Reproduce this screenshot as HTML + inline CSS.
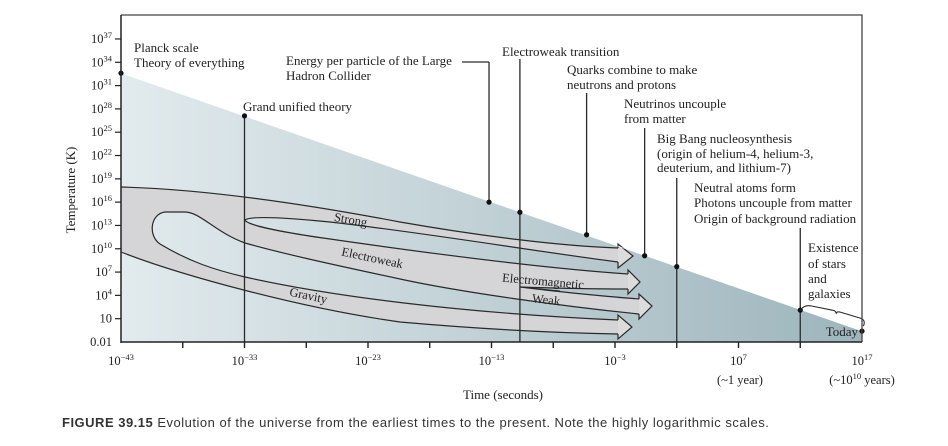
<!DOCTYPE html>
<html><head><meta charset="utf-8"><style>
html,body{margin:0;padding:0;background:#fff;}
svg{display:block;}
text{font-family:"Liberation Serif",serif;fill:#222;}
.cap{font-family:"Liberation Sans",sans-serif;fill:#333;}
</style></head><body>
<svg id="chart" width="948" height="446" viewBox="0 0 948 446" xmlns="http://www.w3.org/2000/svg">
<defs>
<linearGradient id="bg" gradientUnits="userSpaceOnUse" x1="121" y1="0" x2="862" y2="0">
<stop offset="0" stop-color="#e2ebee"/><stop offset="1" stop-color="#9db5bc"/>
</linearGradient>
</defs>
<g id="plot"></g>
</svg>
<script>
const lineTimeExp=[-43,17];
const lineTempExp=[32.6,-0.6];
const eventNames=["planck","gut","lhc","electroweak","quarks","neutrinos","bbn","atoms","stars","today"];
const eventTimeExp=[-43,-33,-13.2,-10.7,-5.3,-0.6,2,12,12,17];
const eventTempExp=[32.6,27.1,16.0,14.7,11.8,9.1,7.7,2.1,2.1,-0.6];
const yTickExp=[37,34,31,28,25,22,19,16,13,10,7,4,1,-2];
const xTickExp=[-43,-33,-23,-13,-3,7,17];
const NS="http://www.w3.org/2000/svg";
const xS=e=>121+(e+43)*(741/60);
const yS=e=>342-(e+2)*7.77;
const g=document.getElementById('plot');
function mk(tag,attrs,parent){const el=document.createElementNS(NS,tag);for(const k in attrs)el.setAttribute(k,attrs[k]);(parent||g).appendChild(el);return el;}
const x0=xS(lineTimeExp[0]),x1=xS(lineTimeExp[1]),y0=yS(lineTempExp[0]),y1=yS(lineTempExp[1]);
const area=mk('path',{d:`M${x0},${y0} L${x1},${y1} L${x1},342 L${x0},342 Z`,fill:'url(#bg)'});


const GR='#d5d5d7',ST='#2a2a2a';
const sil=mk('path',{d:'M121,187 C200,189 300,203 400,222 C480,236 560,246 618,248 L618,334 C560,333 480,329 400,322 C300,308 180,275 121,252 Z',fill:GR});


mk('rect',{x:617,y:274,width:11,height:15,fill:GR});
mk('rect',{x:617,y:299,width:22,height:15,fill:GR});
const gaps=[
 ['strong-loop','M618,262 C540,252 420,232 330,222 C280,217 250,216 245,220 C247,225 280,232 330,239 C420,252 540,268 628,274'],
 ['em-weak-gap','M628,289 C590,289 550,288 520,287 C560,292 600,296 639,299'],
 ['big-loop','M639,314 C560,306 460,292 400,279 C330,264 280,253 245,243 C215,232 200,212 185,212 L165,212 C150,214 148,236 160,244 C190,262 215,270 245,277 C330,296 460,313 618,320']
];
gaps.forEach(([n,d])=>{const f=mk('path',{d:d,fill:'url(#bg)',stroke:'none'});
 const s=mk('path',{d:d,fill:'none',stroke:ST,'stroke-width':1.2});});
mk('path',{d:'M121,187 C200,189 300,203 400,222 C480,236 560,246 618,248',fill:'none',stroke:ST,'stroke-width':1.2});
mk('path',{d:'M121,252 C180,275 300,308 400,322 C480,329 560,333 618,334',fill:'none',stroke:ST,'stroke-width':1.2});
const heads=[['strong-arrow','618,248 618,244 633,256 618,268 618,262'],['electromagnetic-arrow','628,274 628,270 640,282 628,294 628,289'],['weak-arrow','639,299 639,294 652,306 639,319 639,314'],['gravity-arrow','618,320 618,315 632,327 618,339 618,334']];
heads.forEach(([n,p])=>{const h=mk('polyline',{points:p,fill:'#dcdcdd',stroke:ST,'stroke-width':1.2});});
const tl=mk('line',{x1:x0,y1:y0,x2:x1,y2:y1,stroke:'#fff','stroke-width':0.5});


const evTop={gut:null,lhc:62,electroweak:59,quarks:93,neutrinos:128,bbn:178,atoms:228};
const evDown={gut:true,electroweak:true,bbn:true,atoms:true};
eventNames.forEach((n,i)=>{
 const x=xS(eventTimeExp[i]),y=yS(eventTempExp[i]);
 if(n in evTop){
  const top=evTop[n]===null?y:evTop[n];
  const bot=evDown[n]?342:y;
  const l=mk('line',{x1:x,y1:top,x2:x,y2:bot,stroke:ST,'stroke-width':1.3});
  
  
 }
 if(n!=='stars'){const c=mk('circle',{cx:x,cy:y,r:2.6,fill:'#111'});
 
 }
});
mk('polyline',{points:`462,62 ${xS(eventTimeExp[2])},62`,fill:'none',stroke:ST,'stroke-width':1.3});
const br=mk('path',{d:`M${xS(12)},${yS(2.1)} q4,-6 12,-4 l20,4 q3,0 4,3 q1,-2 4,-1 l20,6 q6,2 3,8`,fill:'none',stroke:ST,'stroke-width':1.1});


mk('polyline',{points:'121,15 862,15 862,342',fill:'none',stroke:'#444','stroke-width':1.3});
const ya=mk('line',{x1:121,y1:15,x2:121,y2:343,stroke:'#222','stroke-width':1.5});
const xa=mk('line',{x1:121,y1:342,x2:862,y2:342,stroke:'#222','stroke-width':1.5});
yTickExp.forEach(e=>{
 const y=yS(e);
 if(e>-2)mk('line',{x1:115,y1:y,x2:121,y2:y,stroke:'#222','stroke-width':1.2});
 const t=mk('text',{x:112,y:y+4,'font-size':12.5,'text-anchor':'end'});
 
 
 if(e===1)t.textContent='10';else if(e===-2)t.textContent='0.01';
 else{t.appendChild(document.createTextNode('10'));const s=mk('tspan',{'font-size':8.5,dy:-5},t);s.textContent=String(e);}
});
for(let e=-38;e<17;e+=5){mk('line',{x1:xS(e),y1:342,x2:xS(e),y2:348,stroke:'#222','stroke-width':1.4});}
xTickExp.forEach(e=>{
 const x=xS(e);
 const t=mk('text',{x:x,y:365,'font-size':12.5,'text-anchor':'middle'});
 
 
 t.appendChild(document.createTextNode('10'));const s=mk('tspan',{'font-size':8.5,dy:-5},t);s.textContent=(e<0?'\u2212'+(-e):String(e));
});
function txt(name,x,y,s,size,extra){const t=mk('text',Object.assign({x:x,y:y,'font-size':size||13},extra||{}));t.textContent=s;return t;}
txt('year-note',740,384,'(~1 year)',12.5,{'text-anchor':'middle'});
const yr=mk('text',{x:862,y:384,'font-size':12.5,'text-anchor':'middle'});
yr.appendChild(document.createTextNode('(~10'));const ys=mk('tspan',{'font-size':8.5,dy:-5},yr);ys.textContent='10';const yt=mk('tspan',{dy:5},yr);yt.textContent=' years)';
txt('x-axis-title',503,399,'Time (seconds)',13,{'text-anchor':'middle'});
txt('y-axis-title',75,190,'Temperature (K)',13,{'text-anchor':'middle',transform:'rotate(-90 75 190)'});
const ann=[['planck-label',134,[52,67],['Planck scale','Theory of everything']],
['lhc-label',286,[65,80],['Energy per particle of the Large','Hadron Collider']],
['gut-label',243,[111],['Grand unified theory']],
['electroweak-label',502,[56],['Electroweak transition']],
['quarks-label',567,[74,89],['Quarks combine to make','neutrons and protons']],
['neutrinos-label',624,[108,123],['Neutrinos uncouple','from matter']],
['bbn-label',657,[143,158,172],['Big Bang nucleosynthesis','(origin of helium-4, helium-3,','deuterium, and lithium-7)']],
['atoms-label',694,[192,207,223],['Neutral atoms form','Photons uncouple from matter','Origin of background radiation']],
['stars-label',808,[252,268,283,298],['Existence','of stars','and','galaxies']]];
ann.forEach(([n,x,ys,ls])=>ls.forEach((s,i)=>txt(n,x,ys[i],s,13)));
txt('today-label',858,336,'Today',13,{'text-anchor':'end'});
txt('strong-label',334,224,'Strong',12.5,{transform:'rotate(10 352 220)'});
txt('electroweak-band-label',340,262,'Electroweak',12.5,{transform:'rotate(12 372 263)'});
txt('gravity-label',289,300,'Gravity',12.5,{transform:'rotate(12 310 297)'});
txt('electromagnetic-label',502,285,'Electromagnetic',12.5,{transform:'rotate(5 540 282)'});
txt('weak-label',532,304,'Weak',12.5,{transform:'rotate(6 548 300)'});
mk('line',{x1:520,y1:287,x2:560,y2:291,stroke:ST,'stroke-width':1});
const cap=mk('text',{x:62,y:427,'font-size':13,class:'cap','letter-spacing':0.5});
const b=mk('tspan',{'font-weight':'bold'},cap);b.textContent='FIGURE 39.15';const r=mk('tspan',{},cap);r.textContent='  Evolution of the universe from the earliest times to the present. Note the highly logarithmic scales.';
</script>
</body></html>
